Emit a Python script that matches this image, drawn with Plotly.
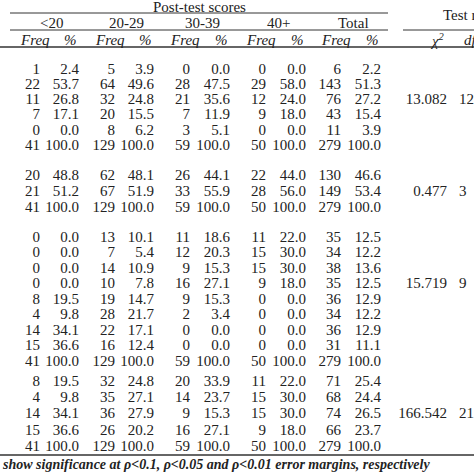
import plotly.graph_objects as go

grupos = ['<20', '20-29', '30-39', '40+', 'Total']

# freq, % per group, one list per row
secao1 = [
    [1, 2.4, 5, 3.9, 0, 0.0, 0, 0.0, 6, 2.2],
    [22, 53.7, 64, 49.6, 28, 47.5, 29, 58.0, 143, 51.3],
    [11, 26.8, 32, 24.8, 21, 35.6, 12, 24.0, 76, 27.2],
    [7, 17.1, 20, 15.5, 7, 11.9, 9, 18.0, 43, 15.4],
    [0, 0.0, 8, 6.2, 3, 5.1, 0, 0.0, 11, 3.9],
    [41, 100.0, 129, 100.0, 59, 100.0, 50, 100.0, 279, 100.0],
]
secao2 = [
    [20, 48.8, 62, 48.1, 26, 44.1, 22, 44.0, 130, 46.6],
    [21, 51.2, 67, 51.9, 33, 55.9, 28, 56.0, 149, 53.4],
    [41, 100.0, 129, 100.0, 59, 100.0, 50, 100.0, 279, 100.0],
]
secao3 = [
    [0, 0.0, 13, 10.1, 11, 18.6, 11, 22.0, 35, 12.5],
    [0, 0.0, 7, 5.4, 12, 20.3, 15, 30.0, 34, 12.2],
    [0, 0.0, 14, 10.9, 9, 15.3, 15, 30.0, 38, 13.6],
    [0, 0.0, 10, 7.8, 16, 27.1, 9, 18.0, 35, 12.5],
    [8, 19.5, 19, 14.7, 9, 15.3, 0, 0.0, 36, 12.9],
    [4, 9.8, 28, 21.7, 2, 3.4, 0, 0.0, 34, 12.2],
    [14, 34.1, 22, 17.1, 0, 0.0, 0, 0.0, 36, 12.9],
    [15, 36.6, 16, 12.4, 0, 0.0, 0, 0.0, 31, 11.1],
    [41, 100.0, 129, 100.0, 59, 100.0, 50, 100.0, 279, 100.0],
]
secao4 = [
    [8, 19.5, 32, 24.8, 20, 33.9, 11, 22.0, 71, 25.4],
    [4, 9.8, 35, 27.1, 14, 23.7, 15, 30.0, 68, 24.4],
    [14, 34.1, 36, 27.9, 9, 15.3, 15, 30.0, 74, 26.5],
    [15, 36.6, 26, 20.2, 16, 27.1, 9, 18.0, 66, 23.7],
    [41, 100.0, 129, 100.0, 59, 100.0, 50, 100.0, 279, 100.0],
]
qui2 = ['13.082', '0.477', '15.719', '166.542']
gl = ['12', '3', '9', '21']
linha_qui = [2, 1, 3, 2]

secoes = [secao1, secao2, secao3, secao4]
inicio = [70, 176, 238, 382]
passo = [15.2, 16, 15.5, 16.3]
x_col = [40, 79, 115, 154, 190, 230, 266, 306, 341, 381]
fonte = dict(family='Liberation Serif', size=15, color='#222')

fig = go.Figure()
xs, ys, ts = [], [], []
qy, qt, dt = [], [], []
for s, sec in enumerate(secoes):
    for i, row in enumerate(sec):
        y = inicio[s] + i * passo[s]
        for j, v in enumerate(row):
            xs.append(x_col[j])
            ys.append(y)
            ts.append(str(v) if j % 2 == 0 else f'{v:.1f}')
    qy.append(inicio[s] + linha_qui[s] * passo[s])
    qt.append(qui2[s])
    dt.append(gl[s])

fig.add_trace(go.Scatter(x=xs, y=ys, text=ts, mode='text',
                         textposition='middle left', textfont=fonte))
fig.add_trace(go.Scatter(x=[447] * 4, y=qy, text=qt, mode='text',
                         textposition='middle left', textfont=fonte))
fig.add_trace(go.Scatter(x=[459] * 4, y=qy, text=dt, mode='text',
                         textposition='middle right', textfont=fonte))

ita = dict(family='Liberation Serif', size=15, color='#222', style='italic')
anot = []
for k, g in enumerate(grupos):
    anot.append(dict(x=(x_col[2 * k] + x_col[2 * k + 1]) / 2 - 8, y=23,
                     text=g.replace('<', '&lt;'), showarrow=False, font=fonte))
    anot.append(dict(x=x_col[2 * k] - 22, y=40, text='Freq', xanchor='left',
                     showarrow=False, font=ita))
    anot.append(dict(x=x_col[2 * k + 1], y=40, text='%', xanchor='right',
                     showarrow=False, font=ita))
anot += [
    dict(x=199, y=7, text='Post-test scores', showarrow=False, font=fonte),
    dict(x=441, y=15, text='Test results', xanchor='left', showarrow=False, font=fonte),
    dict(x=447, y=40, text='χ<sup>2</sup>', xanchor='right', showarrow=False, font=ita),
    dict(x=462, y=40, text='df', xanchor='left', showarrow=False, font=ita),
    dict(x=0, y=464,
         text='<b><i>show significance at ρ&lt;0.1, ρ&lt;0.05 and ρ&lt;0.01 error margins, respectively</i></b>',
         xanchor='left', showarrow=False,
         font=dict(family='Liberation Serif', size=14, color='#222')),
]
for a in anot:
    a['xref'] = 'x'
    a['yref'] = 'y'

linhas = [(10, 388, 13, 1), (10, 388, 30, 1), (403, 480, 30, 1),
          (-5, 480, 47, 1.5), (-5, 480, 455, 1.5)]
shapes = [dict(type='line', x0=a, x1=b, y0=y, y1=y, xref='x', yref='y',
               line=dict(color='#333', width=w)) for a, b, y, w in linhas]

fig.update_layout(
    width=474, height=474, margin=dict(l=0, r=0, t=0, b=0),
    paper_bgcolor='white', plot_bgcolor='white', showlegend=False,
    xaxis=dict(range=[0, 474], visible=False, fixedrange=True),
    yaxis=dict(range=[474, 0], visible=False, fixedrange=True),
    annotations=anot, shapes=shapes,
)
# tira a margem padrão do body
fig.write_html('out.html', config={'displayModeBar': False},
               post_script="document.body.style.margin='0';")
